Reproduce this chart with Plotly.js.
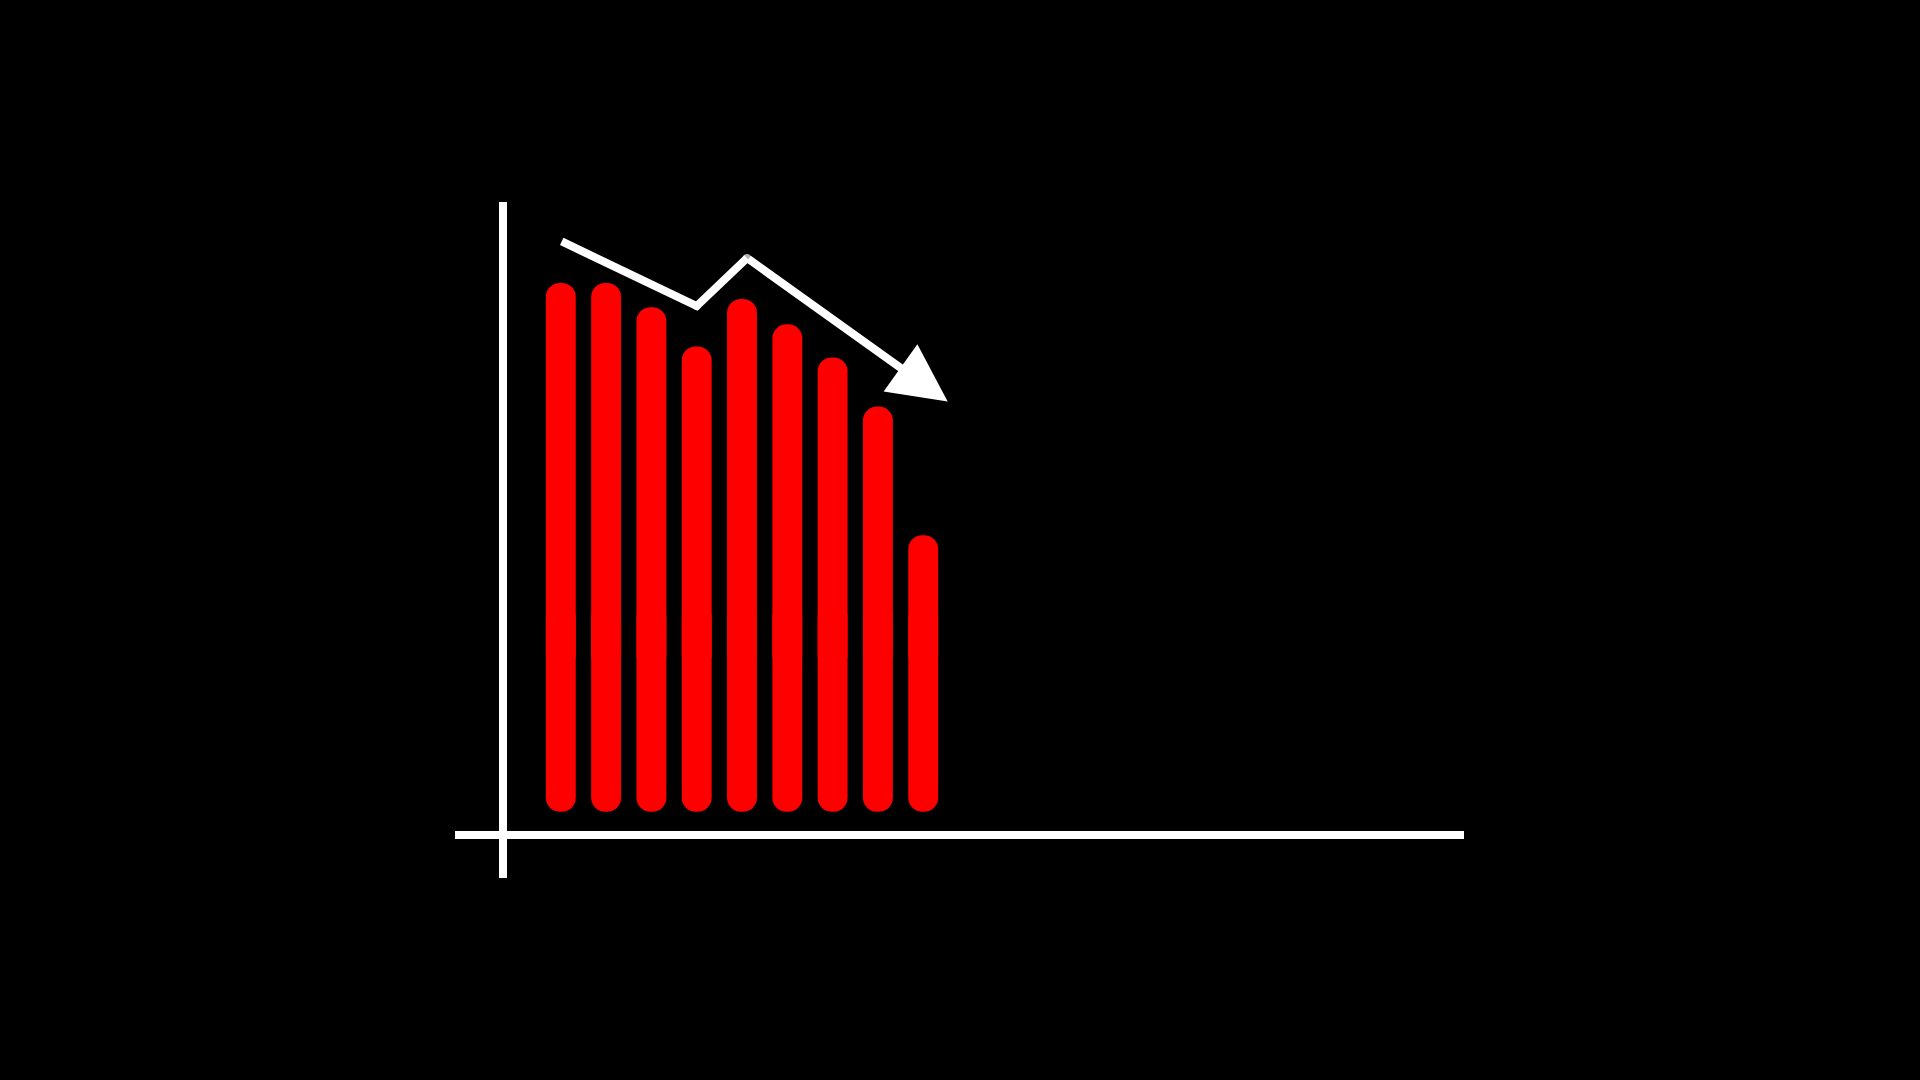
<!DOCTYPE html>
<html>
<head>
<meta charset="utf-8">
<script src="https://cdn.plot.ly/plotly-3.0.1.min.js"></script>
<style>
  html, body { margin: 0; padding: 0; background: #000; }
  #chart { width: 1920px; height: 1080px; }
</style>
</head>
<body>
<div id="chart"></div>
<script>
"use strict";

// bar positions and heights (top of each bar, bar 1 = 100)
var barX = [1, 2, 3, 4, 5, 6, 7, 8, 9];
var barTop = [100, 100, 95.6, 88.5, 97.1, 92.5, 86.5, 77.6, 54.3];
var barBottom = 4.2;

// downward trend line, the last leg ends in the arrow
var trendX = [1.02, 4.0, 5.11];
var trendY = [107.5, 95.8, 104.5];
var arrowTip = [9.54, 78.5];

var RED = "#ff0000";
var WHITE = "#ffffff";
var MID = 30;   // bars are split here so both ends get rounded

var upBars = {
    type: "bar",
    x: barX,
    base: MID,
    y: barTop.map(function(v) { return v - MID; }),
    width: 0.66,
    marker: { color: RED, line: { width: 0 }, cornerradius: "50%" },
    hoverinfo: "none"
};

// overlaps the upper part well past the rounding so no seam shows
var downBars = {
    type: "bar",
    x: barX,
    base: MID + 12,
    y: barX.map(function() { return barBottom - (MID + 12); }),
    width: 0.66,
    marker: { color: RED, line: { width: 0 }, cornerradius: "50%" },
    hoverinfo: "none"
};

var trend = {
    type: "scatter",
    mode: "lines+markers",
    x: trendX,
    y: trendY,
    line: { color: WHITE, width: 8 },
    marker: { color: WHITE, size: [0, 8, 8], line: { width: 0 } },   // round joins
    hoverinfo: "none"
};

var layout = {
    width: 1920,
    height: 1080,
    paper_bgcolor: "#000000",
    plot_bgcolor: "#000000",
    margin: { l: 455, r: 456, t: 202, b: 202 },
    showlegend: false,
    barmode: "overlay",
    xaxis: {
        range: [-1.336, 20.938],
        visible: false,
        fixedrange: true
    },
    yaxis: {
        range: [-7.79, 114.65],
        anchor: "free",
        position: 0.0476,
        showline: true,
        linecolor: WHITE,
        linewidth: 8,
        zeroline: true,
        zerolinecolor: WHITE,
        zerolinewidth: 8,
        showgrid: false,
        showticklabels: false,
        ticks: "",
        fixedrange: true
    },
    annotations: [{
        x: arrowTip[0],
        y: arrowTip[1],
        ax: trendX[trendX.length - 1],
        ay: trendY[trendY.length - 1],
        xref: "x", yref: "y", axref: "x", ayref: "y",
        text: "",
        showarrow: true,
        arrowhead: 2,
        arrowsize: 1.45,
        arrowwidth: 8,
        arrowcolor: WHITE
    }]
};

Plotly.newPlot("chart", [downBars, upBars, trend], layout, { staticPlot: true });
</script>
</body>
</html>
